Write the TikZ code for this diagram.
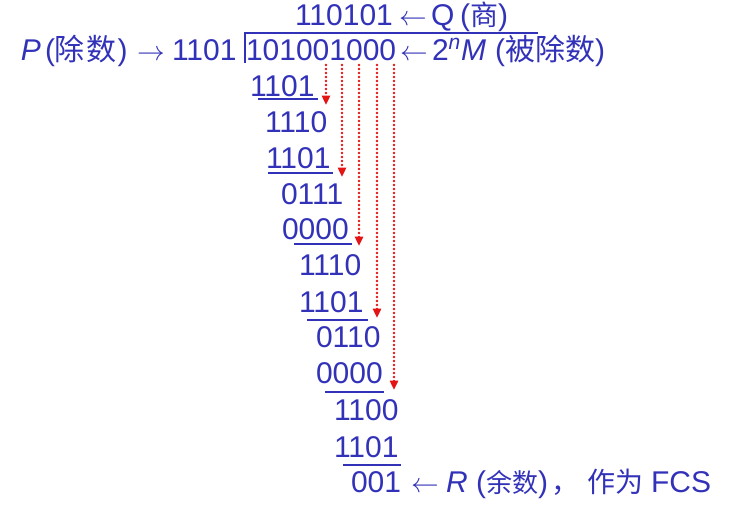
\documentclass[tikz,border=0pt]{standalone}
\usepackage{fontspec}
\setmainfont{Liberation Sans}
\newfontfamily\cjk{Noto Sans CJK SC}
\usetikzlibrary{arrows.meta}
\definecolor{tblue}{RGB}{50,50,185}
\definecolor{tred}{RGB}{228,20,20}
\begin{document}
\begin{tikzpicture}[x=0.75pt,y=-0.75pt,
  txt/.style={anchor=base west,inner sep=0pt,outer sep=0pt,text=tblue,font=\fontsize{22.5}{27}\selectfont},
  rule/.style={draw=tblue,line width=1.6pt},
  bar/.style={draw=tblue,line width=2.2pt},
  drop/.style={draw=tred,line width=2pt,line cap=round,dash pattern=on 0pt off 3pt,-{Triangle[width=6pt,length=7pt]}}]
\useasboundingbox (0,0) rectangle (748,515);
% quotient line
\node[txt] (quot) at (295,25) {110101};
\node[txt] (qarr) at (399,25) {$\leftarrow$};
\node[txt] (qlab) at (431,25) {Q};
\node[txt] (qcn) at (460,25) {({\cjk\fontsize{21}{24}\selectfont 商})};
% divisor / dividend line
\node[txt] (plab) at (21,60) {\textit{P}};
\node[txt] (pcn) at (45,60) {({\cjk 除}\kern1pt{\cjk 数}\kern1pt)};
\node[txt] (parr) at (137,60) {$\rightarrow$};
\node[txt] (divisor) at (172,60) {1101};
\node[txt] (dividend) at (246,60) {101001000};
\node[txt] (marr) at (400,60) {$\leftarrow$};
\node[txt] (mlab) at (432,60) {2\textsuperscript{\textit{n}}\textit{M}};
\node[txt] (mcn) at (495,60) {({\cjk 被除数})};
% division bracket
\draw[bar] (245,63) -- (245,33) -- (538,33);
% rows
\node[txt] (r1) at (250,96) {1101};
\node[txt] (r2) at (265,132) {1110};
\node[txt] (r3) at (266,168) {1101};
\node[txt] (r4) at (281,204) {0111};
\node[txt] (r5) at (282,239) {0000};
\node[txt] (r6) at (299,275) {1110};
\node[txt] (r7) at (299,312) {1101};
\node[txt] (r8) at (316,347) {0110};
\node[txt] (r9) at (316,383) {0000};
\node[txt] (r10) at (334,420) {1100};
\node[txt] (r11) at (334,457) {1101};
\node[txt] (r12) at (351,492) {001};
% underlines
\draw[rule] (258,99) -- (318,99);
\draw[rule] (268,173) -- (333,173);
\draw[rule] (294,244) -- (352,244);
\draw[rule] (307,320) -- (368,320);
\draw[rule] (325,392) -- (384,392);
\draw[rule] (343,465) -- (401,465);
% remainder label
\node[txt] (rarr) at (411,492) {$\leftarrow$};
\node[txt] (rlab) at (446,492) {\textit{R}};
\node[txt] (rcn) at (476,492) {({\cjk\fontsize{19.5}{24}\selectfont 余数})};
\node[txt] (comma) at (551,492) {{\cjk\fontsize{21}{24}\selectfont ，}};
\node[txt] (zw) at (587,492) {{\cjk\fontsize{21}{24}\selectfont 作为}};
\node[txt] (fcs) at (651,492) {FCS};
% drop-down arrows
\coordinate (s1) at (326,65); \coordinate (e1) at (326,105);
\coordinate (s2) at (342,65); \coordinate (e2) at (342,177);
\coordinate (s3) at (359,65); \coordinate (e3) at (359,246);
\coordinate (s4) at (377,65); \coordinate (e4) at (377,318);
\coordinate (s5) at (394,65); \coordinate (e5) at (394,390);
\draw[drop] (s1) -- (e1);
\draw[drop] (s2) -- (e2);
\draw[drop] (s3) -- (e3);
\draw[drop] (s4) -- (e4);
\draw[drop] (s5) -- (e5);
\end{tikzpicture}
\end{document}
